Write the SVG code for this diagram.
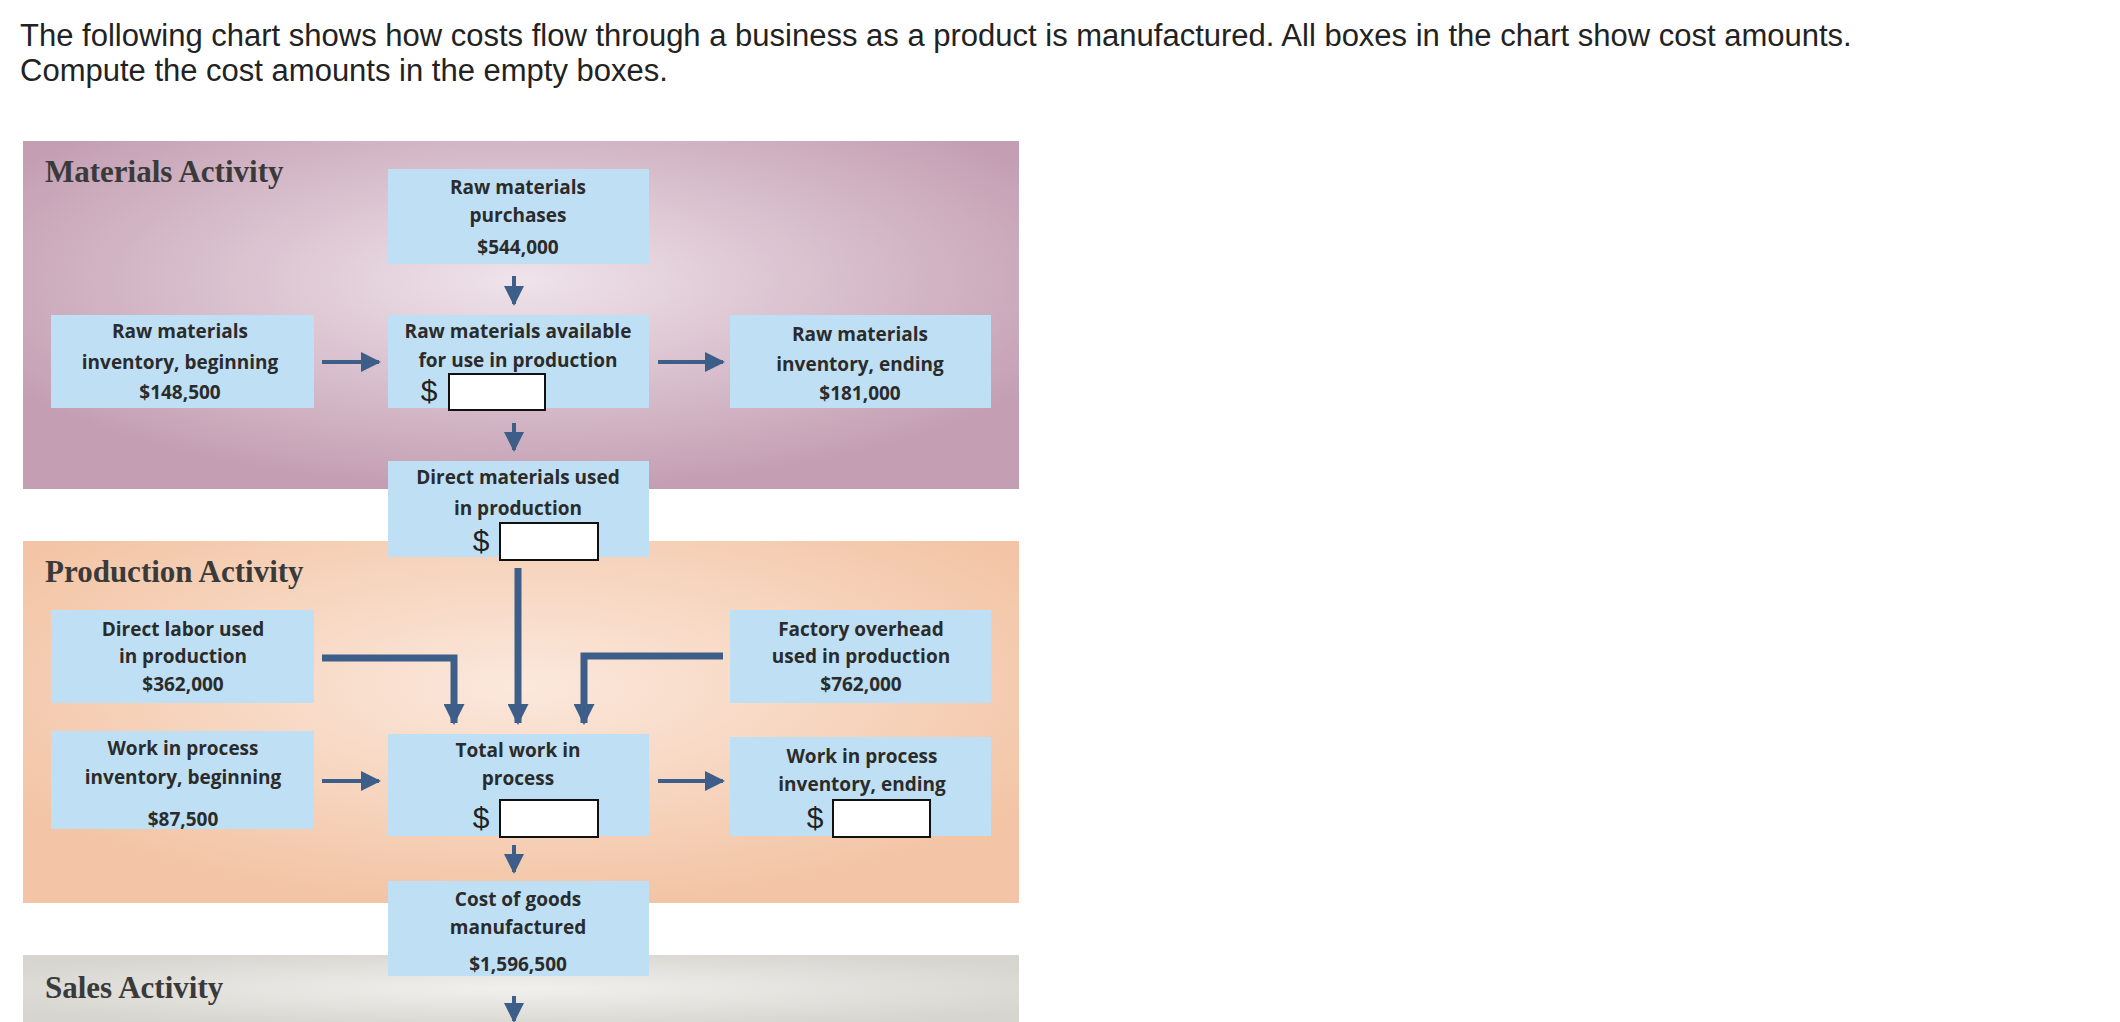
<svg xmlns="http://www.w3.org/2000/svg" width="2120" height="1022" viewBox="0 0 2120 1022">
<defs>
<radialGradient id="gm" cx="0.5" cy="0.4" r="0.6"><stop offset="0" stop-color="#efe3ea"/><stop offset="1" stop-color="#c49fb3"/></radialGradient>
<radialGradient id="gp" cx="0.5" cy="0.4" r="0.6"><stop offset="0" stop-color="#fbe8dc"/><stop offset="1" stop-color="#f3c5a6"/></radialGradient>
<radialGradient id="gs" cx="0.5" cy="0.5" r="0.6"><stop offset="0" stop-color="#f1f0ec"/><stop offset="1" stop-color="#d6d5d0"/></radialGradient>
<marker id="ah" viewBox="0 0 10 10" refX="9" refY="5" markerWidth="5" markerHeight="5" orient="auto" markerUnits="strokeWidth"><path d="M0,0L10,5L0,10z" fill="#3e5e8a"/></marker>
<marker id="ah2" viewBox="0 0 10 10" refX="9" refY="5" markerWidth="3" markerHeight="3" orient="auto" markerUnits="strokeWidth"><path d="M0,0L10,5L0,10z" fill="#3e5e8a"/></marker>
</defs>
<style>
.box{fill:#bfe0f4}
.t{font-family:"Open Sans","Liberation Sans",sans-serif;font-size:19px;font-weight:bold;fill:#2b2b2b;text-anchor:middle}
.d{font-family:"Liberation Sans",sans-serif;font-size:30px;fill:#222;text-anchor:middle}
.in{fill:#fff;stroke:#111;stroke-width:2}
.h{font-family:"Liberation Serif",serif;font-size:31px;font-weight:bold;fill:#3a3a3a}
.a{stroke:#3e5e8a;stroke-width:4;fill:none;marker-end:url(#ah)}
.b{stroke:#3e5e8a;stroke-width:7;fill:none;marker-end:url(#ah2)}
.q{font-family:"Liberation Sans",sans-serif;font-size:31px;fill:#222}
</style>
<rect width="2120" height="1022" fill="#fff"/>
<text class="q" x="20" y="46">The following chart shows how costs flow through a business as a product is manufactured. All boxes in the chart show cost amounts.</text>
<text class="q" x="20" y="81">Compute the cost amounts in the empty boxes.</text>
<rect x="23" y="141" width="996" height="348" fill="url(#gm)"/>
<rect x="23" y="541" width="996" height="362" fill="url(#gp)"/>
<rect x="23" y="955" width="996" height="67" fill="url(#gs)"/>
<text class="h" x="45" y="182">Materials Activity</text>
<text class="h" x="45" y="582">Production Activity</text>
<text class="h" x="45" y="998">Sales Activity</text>
<g id="connectors">
<path class="a" d="M514,276V304"/>
<path class="a" d="M514,423V450"/>
<path class="a" d="M514,845V872"/>
<path class="a" d="M514,996V1021"/>
<path class="a" d="M322,362H379"/>
<path class="a" d="M658,362H723"/>
<path class="a" d="M322,781H379"/>
<path class="a" d="M658,781H723"/>
<path class="b" d="M322,658H454V723"/>
<path class="b" d="M518,568V723"/>
<path class="b" d="M723,656H584V723"/>
</g>
<g id="rm-purchases"><rect class="box" x="388" y="169" width="261" height="95"/><text class="t" x="518" y="194">Raw materials</text><text class="t" x="518" y="222">purchases</text><text class="t" x="518" y="254">$544,000</text></g>
<g id="rm-beg"><rect class="box" x="51" y="315" width="263" height="93"/><text class="t" x="180" y="338">Raw materials</text><text class="t" x="180" y="369">inventory, beginning</text><text class="t" x="180" y="399">$148,500</text></g>
<g id="rm-avail"><rect class="box" x="388" y="315" width="261" height="93"/><text class="t" x="518" y="338">Raw materials available</text><text class="t" x="518" y="367">for use in production</text><text class="d" x="429" y="401">$</text><rect class="in" x="449" y="374" width="96" height="36"/></g>
<g id="rm-end"><rect class="box" x="730" y="315" width="261" height="93"/><text class="t" x="860" y="341">Raw materials</text><text class="t" x="860" y="371">inventory, ending</text><text class="t" x="860" y="400">$181,000</text></g>
<g id="dm-used"><rect class="box" x="388" y="461" width="261" height="96"/><text class="t" x="518" y="484">Direct materials used</text><text class="t" x="518" y="515">in production</text><text class="d" x="481" y="551">$</text><rect class="in" x="500" y="523" width="98" height="37"/></g>
<g id="dl"><rect class="box" x="51" y="610" width="263" height="93"/><text class="t" x="183" y="636">Direct labor used</text><text class="t" x="183" y="663">in production</text><text class="t" x="183" y="691">$362,000</text></g>
<g id="foh"><rect class="box" x="730" y="610" width="261" height="93"/><text class="t" x="861" y="636">Factory overhead</text><text class="t" x="861" y="663">used in production</text><text class="t" x="861" y="691">$762,000</text></g>
<g id="wip-beg"><rect class="box" x="51" y="731" width="263" height="98"/><text class="t" x="183" y="755">Work in process</text><text class="t" x="183" y="784">inventory, beginning</text><text class="t" x="183" y="826">$87,500</text></g>
<g id="total-wip"><rect class="box" x="388" y="734" width="261" height="102"/><text class="t" x="518" y="757">Total work in</text><text class="t" x="518" y="785">process</text><text class="d" x="481" y="828">$</text><rect class="in" x="500" y="800" width="98" height="37"/></g>
<g id="wip-end"><rect class="box" x="730" y="737" width="261" height="99"/><text class="t" x="862" y="763">Work in process</text><text class="t" x="862" y="791">inventory, ending</text><text class="d" x="815" y="828">$</text><rect class="in" x="833" y="800" width="97" height="37"/></g>
<g id="cogm"><rect class="box" x="388" y="881" width="261" height="95"/><text class="t" x="518" y="906">Cost of goods</text><text class="t" x="518" y="934">manufactured</text><text class="t" x="518" y="971">$1,596,500</text></g>
</svg>
